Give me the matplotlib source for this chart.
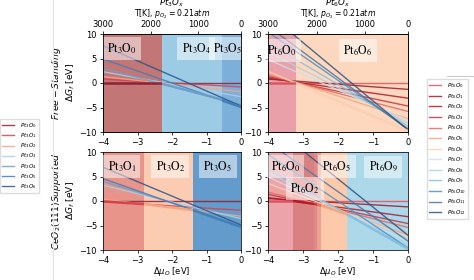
import numpy as np
import matplotlib.pyplot as plt
from matplotlib.lines import Line2D
from matplotlib.patches import Rectangle

# chemical potential range (x axis)
mu = np.array([-4.0, 0.0])

# top axis: temperature at p_O2 = 0.21 atm
T_labels = ["3000", "2000", "1000", "0"]
T_mu = [-4.0, -2.6, -1.24, 0.0]

# Pt3Ox: formation energy at mu=-4 and mu=0
pt3_labels = [r"$Pt_3O_0$", r"$Pt_3O_1$", r"$Pt_3O_2$", r"$Pt_3O_3$",
              r"$Pt_3O_4$", r"$Pt_3O_5$", r"$Pt_3O_6$"]
pt3_free_start = [0.0, 0.8, 1.3, 2.3, 3.0, 4.9, 7.6]
pt3_free_end = [0.0, -0.8, -1.8, -2.8, -4.4, -4.9, -4.7]
pt3_sup_start = [0.0, -0.1, 0.4, 3.2, 4.0, 4.55, 6.9]
pt3_sup_end = [0.0, -1.9, -3.1, -3.6, -4.8, -5.3, -4.9]

# Pt6Ox
pt6_labels = [r"$Pt_6O_0$", r"$Pt_6O_1$", r"$Pt_6O_2$", r"$Pt_6O_3$",
              r"$Pt_6O_4$", r"$Pt_6O_5$", r"$Pt_6O_6$", r"$Pt_6O_7$",
              r"$Pt_6O_8$", r"$Pt_6O_9$", r"$Pt_6O_{10}$", r"$Pt_6O_{11}$",
              r"$Pt_6O_{12}$"]
pt6_free_start = [0.0, 0.8, 1.0, 1.3, 1.6, 2.0, 2.4, 4.8, 6.3, 8.2, 10.4, 11.6, 14.2]
pt6_free_end = [0.0, -1.3, -3.1, -4.7, -5.8, -7.3, -9.8, -7.6, -8.2, -8.8, -9.3, -9.5, -9.6]
pt6_sup_start = [0.0, 0.5, 0.7, 1.35, 1.8, 2.7, 3.6, 4.9, 5.9, 6.5, 9.5, 12.0, 16.0]
pt6_sup_end = [0.0, -1.2, -3.2, -4.6, -5.4, -6.9, -7.3, -8.3, -9.2, -9.8, -9.6, -8.2, -7.0]

# stable phases: index of phase and region edges
pt3_free_phases = [0, 4, 5]
pt3_free_edges = [-4.0, -2.3, -0.55, 0.0]
pt3_sup_phases = [1, 2, 5]
pt3_sup_edges = [-4.0, -2.8, -1.4, 0.0]
pt6_free_phases = [0, 6]
pt6_free_edges = [-4.0, -3.2, 0.0]
pt6_sup_phases = [0, 2, 3, 4, 5, 9]
pt6_sup_edges = [-4.0, -3.29, -2.69, -2.6, -2.49, -1.74, 0.0]

# region label texts
pt3_free_text = [r"$\mathrm{Pt_3O_0}$", r"$\mathrm{Pt_3O_4}$", r"$\mathrm{Pt_3O_5}$"]
pt3_sup_text = [r"$\mathrm{Pt_3O_1}$", r"$\mathrm{Pt_3O_2}$", r"$\mathrm{Pt_3O_5}$"]
pt6_free_text = [r"$\mathrm{Pt_6O_0}$", r"$\mathrm{Pt_6O_6}$"]
pt6_sup_text = [r"$\mathrm{Pt_6O_0}$", r"$\mathrm{Pt_6O_2}$", r"$\mathrm{Pt_6O_5}$", r"$\mathrm{Pt_6O_9}$"]

# ---- styles ----
pt3_colors = ['#8b2233', '#d6404e', '#f4a582', '#a9cfe4', '#6f9fca', '#3f7fb8', '#2a5688']
pt6_colors = ['#d9555f', '#9e1b2d', '#b2182b', '#c7343c', '#de6b62', '#f4a582', '#fbd0b3',
              '#cfdfe9', '#b3cfe0', '#86c0de', '#4b93c4', '#4b76a4', '#2f5480']
pt3_free_fill = ['#c27676', '#9ccbe6', '#7cafd9']
pt3_sup_fill = ['#e8948a', '#fbcbb2', '#649bcd']
pt6_free_fill = ['#e9a0a9', '#fdd8bf']
pt6_sup_fill = ['#eda3aa', '#d98080', '#e08a8a', '#eea094', '#fdc9ab', '#acd8ea']

pt3_free_pos = [(-3.45, 7.0), (-1.3, 7.0), (-0.4, 7.0)]
pt3_sup_pos = [(-3.45, 7.0), (-2.05, 7.0), (-0.67, 7.0)]
pt6_free_pos = [(-3.6, 6.7), (-1.43, 6.7)]
pt6_sup_pos = [(-3.5, 7.0), (-2.94, 2.6), (-2.03, 7.0), (-0.71, 7.0)]

plt.rcParams['axes.linewidth'] = 0.55
plt.rcParams['xtick.major.width'] = 0.55
plt.rcParams['ytick.major.width'] = 0.55
plt.rcParams['xtick.major.size'] = 2.4
plt.rcParams['ytick.major.size'] = 2.4
plt.rcParams['xtick.major.pad'] = 1.6
plt.rcParams['ytick.major.pad'] = 2.0

W, H = 474, 280
fig = plt.figure(figsize=(W / 100, H / 100), dpi=100)


def box(x0, y0, x1, y1):
    return [x0 / W, 1 - y1 / H, (x1 - x0) / W, (y1 - y0) / H]


def panel(rect, starts, ends, colors, phases, edges, fills, texts, pos):
    ax = fig.add_axes(rect)
    for k, ph in enumerate(phases):
        ax.axvspan(edges[k], edges[k + 1], color=fills[k], lw=0, zorder=0)
    lines = []
    for i in range(len(starts)):
        ln, = ax.plot(mu, [starts[i], ends[i]], color=colors[i], lw=1.0, alpha=0.85)
        lines.append(ln)
    # stable phase drawn thicker within its region
    for k, ph in enumerate(phases):
        th, = ax.plot(mu, [starts[ph], ends[ph]], color=colors[ph], lw=1.8, alpha=0.9)
        th.set_clip_path(Rectangle((edges[k], -20), edges[k + 1] - edges[k], 40,
                                   transform=ax.transData))
    for t, (x, y) in zip(texts, pos):
        ax.text(x, y, t, ha='center', va='center', fontsize=8.5, math_fontfamily='stix',
                bbox=dict(boxstyle='square,pad=0.35', fc='white', ec='none', alpha=0.5))
    ax.set_xlim(-4, 0)
    ax.set_ylim(-10, 10)
    ax.set_xticks([-4, -3, -2, -1, 0])
    ax.set_yticks([-10, -5, 0, 5, 10])
    ax.tick_params(labelsize=6)
    return ax, lines


ax_tl, l3 = panel(box(103, 34, 241, 132), pt3_free_start, pt3_free_end, pt3_colors,
                  pt3_free_phases, pt3_free_edges, pt3_free_fill, pt3_free_text, pt3_free_pos)
ax_bl, _ = panel(box(103, 152, 241, 250), pt3_sup_start, pt3_sup_end, pt3_colors,
                 pt3_sup_phases, pt3_sup_edges, pt3_sup_fill, pt3_sup_text, pt3_sup_pos)
ax_tr, l6 = panel(box(268, 34, 408, 132), pt6_free_start, pt6_free_end, pt6_colors,
                  pt6_free_phases, pt6_free_edges, pt6_free_fill, pt6_free_text, pt6_free_pos)
ax_br, _ = panel(box(268, 152, 408, 250), pt6_sup_start, pt6_sup_end, pt6_colors,
                 pt6_sup_phases, pt6_sup_edges, pt6_sup_fill, pt6_sup_text, pt6_sup_pos)

for ax, title, cx in [(ax_tl, r"$Pt_3O_x$", 172), (ax_tr, r"$Pt_6O_x$", 338)]:
    top = ax.twiny()
    top.set_xlim(-4, 0)
    top.set_xticks(T_mu)
    top.set_xticklabels(T_labels)
    top.tick_params(labelsize=6, pad=1.2)
    fig.text(cx / W, 1 - 14.5 / H, r"T[K], $p_{O_2} = 0.21atm$", fontsize=5.6,
             ha='center', va='center')
    fig.text(cx / W, 1 - 2.5 / H, title, fontsize=6.2, ha='center', va='center')

ax_tl.set_ylabel("$Free-Standing$\n$\\Delta G_f$ [eV]", fontsize=6.6, labelpad=1.5)
ax_bl.set_ylabel("$CeO_2(111)Supported$\n$\\Delta G_f$ [eV]", fontsize=6.6, labelpad=1.5)
ax_bl.set_xlabel(r"$\Delta\mu_O$ [eV]", fontsize=6, labelpad=0.5)
ax_br.set_xlabel(r"$\Delta\mu_O$ [eV]", fontsize=6, labelpad=0.5)

leg_kw = dict(fontsize=4, frameon=True, borderaxespad=0, handlelength=2.2,
              handletextpad=1.0, fancybox=False, edgecolor='#dddddd', framealpha=1)
fig.legend(l3, pt3_labels, loc='upper left', bbox_to_anchor=(0.0, 1 - 119 / H),
           labelspacing=0.22, **leg_kw)
fig.legend(l6, pt6_labels, loc='upper left', bbox_to_anchor=(427 / W, 1 - 79 / H),
           labelspacing=0.3, **leg_kw)

# thin frame remnants visible in the source image
fig.add_artist(Line2D([53 / W, 53 / W], [0, 1], color='#e4e4e4', lw=0.8))
fig.add_artist(Line2D([447 / W, 1], [1 - 76 / H, 1 - 76 / H], color='#bbbbbb', lw=0.6))

fig.savefig("out.png", dpi=100)
